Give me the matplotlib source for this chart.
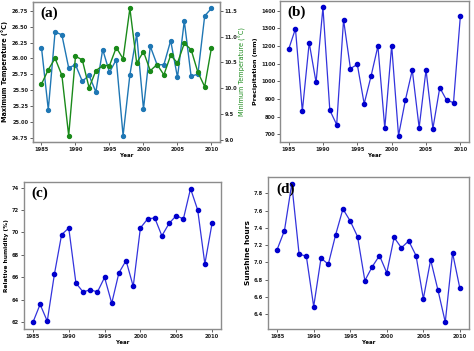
import numpy as np
import matplotlib
matplotlib.use('Agg')
import matplotlib.pyplot as plt
from matplotlib.ticker import MultipleLocator

# Datos
years = np.arange(1985, 2011)

tmax = [26.17, 25.19, 26.42, 26.37, 25.85, 25.90, 25.64, 25.73, 25.47, 26.14,
        25.78, 25.98, 24.78, 25.74, 26.38, 25.20, 26.19, 25.90, 25.90, 26.28,
        25.70, 26.59, 25.72, 25.75, 26.67, 26.79]
tmin = [10.08, 10.36, 10.58, 10.25, 9.08, 10.62, 10.55, 10.01, 10.34, 10.44,
        10.44, 10.79, 10.57, 11.55, 10.49, 10.71, 10.34, 10.46, 10.26, 10.64,
        10.49, 10.87, 10.75, 10.31, 10.03, 10.79]
precip = [1181, 1298, 831, 1219, 994, 1419, 837, 755, 1349, 1073,
          1096, 873, 1030, 1200, 735, 1203, 693, 895, 1064, 738,
          1065, 733, 965, 893, 880, 1372]
humidity = [62.0, 63.6, 62.1, 66.3, 69.8, 70.4, 65.5, 64.7, 64.9, 64.7,
            66.0, 63.7, 66.4, 67.5, 65.2, 70.4, 71.2, 71.3, 69.7, 70.8,
            71.5, 71.2, 73.9, 72.0, 67.2, 70.8]
sunshine = [7.15, 7.37, 7.91, 7.10, 7.07, 6.49, 7.05, 6.98, 7.32, 7.62,
            7.48, 7.30, 6.79, 6.95, 7.08, 6.88, 7.29, 7.17, 7.25, 7.08,
            6.58, 7.03, 6.68, 6.31, 7.11, 6.70]

tick_fs = 3.7
spine_col = '#8c8c8c'
green = '#1a8a1a'


def style(ax, letter, ylabel, ystep, lab_fs, lab_x):
    ax.set_xticks([1985, 1990, 1995, 2000, 2005, 2010])
    ax.yaxis.set_major_locator(MultipleLocator(ystep))
    ax.tick_params(labelsize=tick_fs, length=2, width=0.5, pad=1.5, colors='#222222')
    for lbl in ax.get_xticklabels() + ax.get_yticklabels():
        lbl.set_fontweight('bold')
    for s in ax.spines.values():
        s.set_color(spine_col)
        s.set_linewidth(1.0)
    ax.set_xlabel('Year', fontsize=3.9, fontweight='bold', labelpad=1)
    ax.set_ylabel(ylabel, fontsize=lab_fs, fontweight='bold')
    ax.yaxis.set_label_coords(lab_x, 0.5)
    ax.text(0.04, 0.92, letter, transform=ax.transAxes, fontsize=11,
            fontweight='bold', family='Liberation Serif', va='center', ha='left')


fig = plt.figure(figsize=(4.74, 3.51), dpi=100)

# (a) Temperatura maxima y minima
ax1 = fig.add_axes([0.0696, 0.5954, 0.3945, 0.399])
ax1.plot(years, tmax, '-o', color='#1f77b4', lw=1.0, ms=2.8)
style(ax1, '(a)', 'Maximum Temperature (°C)', 0.25, 4.7, -0.135)
ax1b = ax1.twinx()
ax1b.plot(years, tmin, '-o', color=green, lw=1.0, ms=2.8)
ax1b.yaxis.set_major_locator(MultipleLocator(0.5))
ax1b.tick_params(labelsize=tick_fs, length=2, width=0.5, pad=1.5, colors='#222222')
for lbl in ax1b.get_yticklabels():
    lbl.set_fontweight('bold')
for s in ax1b.spines.values():
    s.set_color(spine_col)
ax1b.set_ylabel('Minimum Temperature (°C)', fontsize=4.7, color=green)
ax1b.yaxis.set_label_coords(1.1, 0.5)

# (b) Precipitacion
ax2 = fig.add_axes([0.5907, 0.5954, 0.3987, 0.4017])
ax2.plot(years, precip, '-', color='#3333dd', lw=0.9)
ax2.plot(years, precip, 'o', color='#0000cc', ms=3.0)
style(ax2, '(b)', 'Precipitation (mm)', 100, 4.6, -0.115)

# (c) Humedad relativa
ax3 = fig.add_axes([0.0506, 0.0627, 0.4156, 0.4188])
ax3.plot(years, humidity, '-', color='#3333dd', lw=0.9)
ax3.plot(years, humidity, 'o', color='#0000cc', ms=3.0)
style(ax3, '(c)', 'Relative humidity (%)', 2, 4.2, -0.075)

# (d) Horas de sol
ax4 = fig.add_axes([0.5654, 0.0627, 0.4241, 0.433])
ax4.plot(years, sunshine, '-', color='#3333dd', lw=0.9)
ax4.plot(years, sunshine, 'o', color='#0000cc', ms=3.0)
style(ax4, '(d)', 'Sunshine hours', 0.2, 5.3, -0.085)

fig.savefig('out.png', dpi=100)
